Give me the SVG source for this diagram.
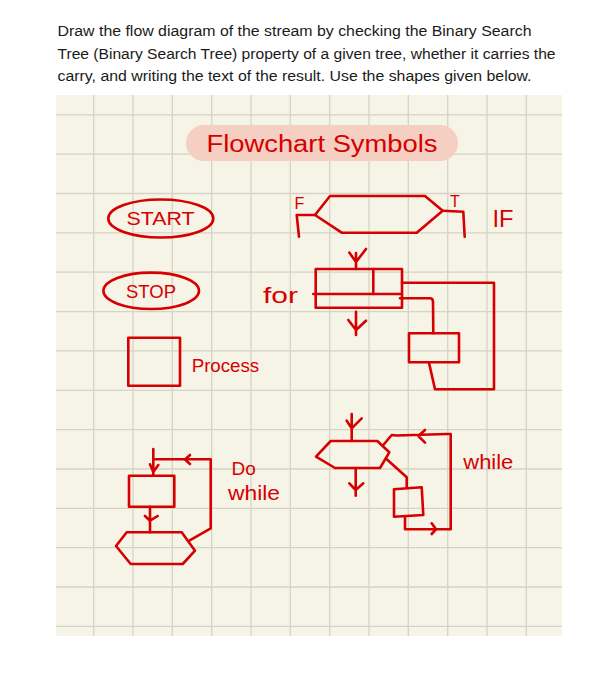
<svg xmlns="http://www.w3.org/2000/svg" width="612" height="694" viewBox="0 0 612 694">
<style>
.q{font-family:"Liberation Sans",Arial,sans-serif;font-size:15.5px;fill:#1a1a1a}
.g{stroke:#d6d3c6;stroke-width:1.3}
.r{fill:none;stroke:#d60000;stroke-width:2.6;stroke-linecap:round;stroke-linejoin:round}
.h{font-family:"Liberation Sans",Arial,sans-serif;fill:#d60000}
</style>
<rect width="612" height="694" fill="#ffffff"/>
<text class="q" x="57.5" y="36" textLength="474" lengthAdjust="spacingAndGlyphs">Draw the flow diagram of the stream by checking the Binary Search</text>
<text class="q" x="57.5" y="58.5" textLength="498" lengthAdjust="spacingAndGlyphs">Tree (Binary Search Tree) property of a given tree, whether it carries the</text>
<text class="q" x="57.5" y="80.5" textLength="474" lengthAdjust="spacingAndGlyphs">carry, and writing the text of the result. Use the shapes given below.</text>
<g id="paper">
<rect x="56" y="95" width="506" height="541" fill="#f6f3e7"/>
<g class="g">
<line x1="93.7" y1="95" x2="93.7" y2="636"/><line x1="133" y1="95" x2="133" y2="636"/><line x1="172.3" y1="95" x2="172.3" y2="636"/><line x1="211.7" y1="95" x2="211.7" y2="636"/><line x1="251" y1="95" x2="251" y2="636"/><line x1="290.3" y1="95" x2="290.3" y2="636"/><line x1="329.7" y1="95" x2="329.7" y2="636"/><line x1="369" y1="95" x2="369" y2="636"/><line x1="408.3" y1="95" x2="408.3" y2="636"/><line x1="447.7" y1="95" x2="447.7" y2="636"/><line x1="487" y1="95" x2="487" y2="636"/><line x1="526.3" y1="95" x2="526.3" y2="636"/>
<line x1="56" y1="114.8" x2="562" y2="114.8"/><line x1="56" y1="154.2" x2="562" y2="154.2"/><line x1="56" y1="193.5" x2="562" y2="193.5"/><line x1="56" y1="232.9" x2="562" y2="232.9"/><line x1="56" y1="272.2" x2="562" y2="272.2"/><line x1="56" y1="311.6" x2="562" y2="311.6"/><line x1="56" y1="350.9" x2="562" y2="350.9"/><line x1="56" y1="390.3" x2="562" y2="390.3"/><line x1="56" y1="429.6" x2="562" y2="429.6"/><line x1="56" y1="469" x2="562" y2="469"/><line x1="56" y1="508.3" x2="562" y2="508.3"/><line x1="56" y1="547.7" x2="562" y2="547.7"/><line x1="56" y1="587" x2="562" y2="587"/><line x1="56" y1="626.4" x2="562" y2="626.4"/>
</g>
</g>
<g id="title">
<rect x="186" y="125" width="272" height="36" rx="18" fill="#f4cfc2"/>
<text class="h" x="206.5" y="151.5" font-size="23" textLength="231" lengthAdjust="spacingAndGlyphs">Flowchart Symbols</text>
</g>
<g id="start">
<ellipse class="r" cx="160.8" cy="218.5" rx="52.5" ry="19"/>
<text class="h" x="160.5" y="225" font-size="19" text-anchor="middle" textLength="68" lengthAdjust="spacingAndGlyphs">START</text>
</g>
<g id="stop">
<ellipse class="r" cx="151.2" cy="290.8" rx="47.8" ry="18.2"/>
<text class="h" x="151" y="297.5" font-size="19" text-anchor="middle" textLength="50" lengthAdjust="spacingAndGlyphs">STOP</text>
</g>
<g id="process">
<rect class="r" x="128.3" y="337.7" width="51.7" height="48"/>
<text class="h" x="191.7" y="371.7" font-size="19" textLength="67.5" lengthAdjust="spacingAndGlyphs">Process</text>
</g>
<g id="if">
<polygon class="r" points="315,215 330,196 425,196 442.7,210.7 416.7,232.7 341.7,232.7"/>
<text class="h" x="294.5" y="209" font-size="16">F</text>
<text class="h" x="450" y="207" font-size="16">T</text>
<text class="h" x="492.5" y="227" font-size="24" textLength="21" lengthAdjust="spacingAndGlyphs">IF</text>
</g>
<g id="for">
<rect class="r" x="315.7" y="269" width="86.3" height="38.7"/>
<line class="r" x1="313.3" y1="294" x2="400" y2="294"/>
<line class="r" x1="373.3" y1="269" x2="373.3" y2="294"/>
<rect class="r" x="409" y="333.3" width="50" height="29"/>
<text class="h" x="263" y="303" font-size="22" textLength="35" lengthAdjust="spacingAndGlyphs">for</text>
</g>
<g id="dowhile">
<rect class="r" x="129" y="475.7" width="45.3" height="31"/>
<polygon class="r" points="116,546 126.7,532.3 181.7,532.3 195,550.7 182.7,564 130.7,564"/>
<text class="h" x="231.5" y="475" font-size="19">Do</text>
<text class="h" x="228" y="500" font-size="21" textLength="52" lengthAdjust="spacingAndGlyphs">while</text>
</g>
<g id="while">
<polygon class="r" points="316,456.7 330.7,441 377.3,441 389.3,452.3 380,468 335,468"/>
<polygon class="r" points="394,489.3 421.7,487.3 423.3,515 394,516.7"/>
<text class="h" x="463.3" y="469.3" font-size="21" textLength="50" lengthAdjust="spacingAndGlyphs">while</text>
</g>
<g id="connectors" class="r">
<path d="M315,215 L296.7,215 L299,236.7"/>
<path d="M442.7,210.7 L463.3,211.7 L464.7,236.7"/>
<path d="M356,253 L356,269 M349.3,252.5 L356,262 L366,249"/>
<path d="M356,311.7 L356,335 M348.3,320 L356,330 L366,320.7"/>
<path d="M402,282.7 L494,282.7 L494,389.3 L435,389.3 L429,362.7"/>
<path d="M400,298.3 L430,298.3 Q433,298.3 433,302 L433.3,333.3"/>
<path d="M153.3,449 L153.3,475.7 M150,464.3 L153.3,472 L158.3,465"/>
<path d="M153.3,459.3 L210.7,459.3 L210.7,528.3 L189.3,540.7 M190,455 L185,459.5 L190,464"/>
<path d="M150,506.7 L150,532.3 M145,516 L150,520.7 L157.7,516"/>
<path d="M351.7,414 L351.7,441 M346.7,420.7 L351.7,428.3 L361.7,418.3"/>
<path d="M355.7,468 L355.7,495.7 M349.3,483.3 L355.7,490 L363.3,483.3"/>
<path d="M383.3,445 L391.7,435 L396.7,435.5 L446.7,434 L450.7,434 L450.7,529.3 L405,529.3 L405,516.7 M425,430 L418.3,436 L425,442.7 M431.7,523.3 L436,529.3 L431.7,534"/>
<path d="M386.7,459.3 L406.7,477.3 L406.7,487.3"/>
</g>
</svg>
